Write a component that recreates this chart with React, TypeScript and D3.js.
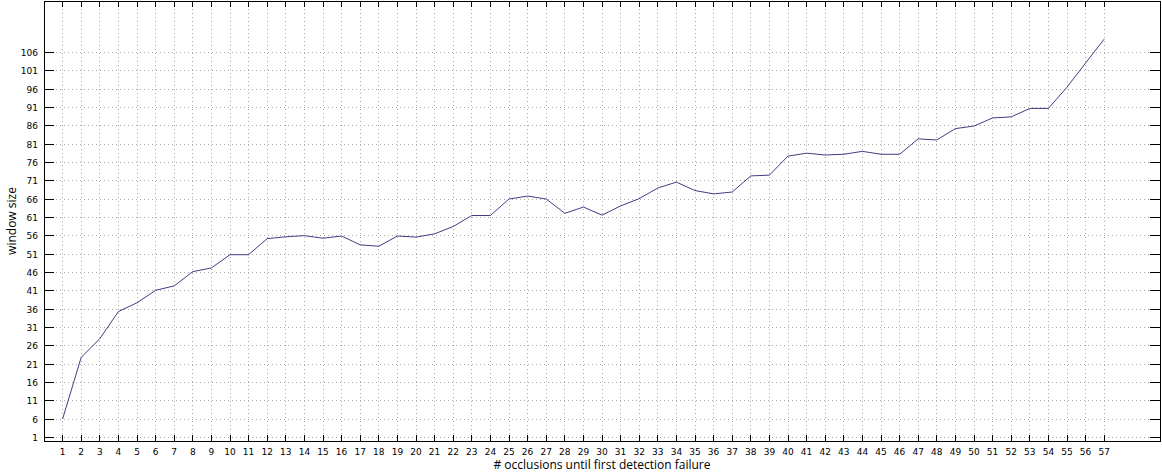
import React from 'react';
import * as d3 from 'd3';

// # occlusions until first detection failure (x = 1..57)
const occlusions: number[] = d3.range(1, 58);

const windowSize: number[] = [
  6, 22.8, 27.9, 35.3, 37.7, 41.1, 42.3, 46.2, 47.2, 50.8,
  50.8, 55.2, 55.7, 56.0, 55.3, 55.9, 53.5, 53.1, 55.9, 55.6,
  56.5, 58.5, 61.5, 61.5, 66.0, 66.8, 66.0, 62.1, 63.8, 61.6,
  64.1, 66.1, 69.0, 70.6, 68.3, 67.4, 67.9, 72.3, 72.5, 77.7,
  78.5, 78.0, 78.2, 79.0, 78.2, 78.2, 82.4, 82.1, 85.2, 85.9,
  88.1, 88.4, 90.7, 90.7, 96.5, 103.1, 109.6,
];

const xTicks: number[] = d3.range(1, 58);
const yTicks: number[] = d3.range(1, 107, 5);

const xLabel = '# occlusions until first detection failure';
const yLabel = 'window size';

const W = 1162;
const H = 474;
const margin = { top: 1, right: 2, bottom: 33, left: 44 };

const App: React.FC = () => {
  const x0 = margin.left;
  const x1 = W - margin.right;
  const y0 = margin.top;
  const y1 = H - margin.bottom;

  const xScale = d3.scaleLinear().domain([0, 60]).range([x0, x1]);
  const yScale = d3.scaleLinear().domain([0, 120]).range([y1, y0]);

  const line = d3
    .line<number>()
    .x((_, i) => xScale(occlusions[i]))
    .y(d => yScale(d));

  const gridColor = '#a8a8a8';
  const tickFont = '"DejaVu Sans", Verdana, sans-serif';
  const labelFont = '"Open Sans", "Noto Sans", sans-serif';

  return (
    <div style={{ position: 'fixed', left: 0, top: 0 }}>
      <svg width={W} height={H} style={{ display: 'block', background: '#fff' }}>
        {/* grid */}
        <g stroke={gridColor} strokeWidth={1} strokeDasharray="1,3" shapeRendering="crispEdges">
          {xTicks.map(t => (
            <line key={`gx${t}`} x1={xScale(t)} x2={xScale(t)} y1={y0} y2={y1} />
          ))}
          {yTicks.map(t => (
            <line key={`gy${t}`} x1={x0} x2={x1} y1={yScale(t)} y2={yScale(t)} />
          ))}
        </g>

        {/* ticks, mirrored on all sides */}
        <g stroke="#000" strokeWidth={1} shapeRendering="crispEdges">
          {xTicks.map(t => (
            <g key={`tx${t}`}>
              <line x1={xScale(t)} x2={xScale(t)} y1={y1} y2={y1 - 6} />
              <line x1={xScale(t)} x2={xScale(t)} y1={y0} y2={y0 + 6} />
            </g>
          ))}
          {yTicks.map(t => (
            <g key={`ty${t}`}>
              <line x1={x0} x2={x0 + 10} y1={yScale(t)} y2={yScale(t)} />
              <line x1={x1} x2={x1 - 10} y1={yScale(t)} y2={yScale(t)} />
            </g>
          ))}
        </g>

        {/* data */}
        <path d={line(windowSize) ?? ''} fill="none" stroke="#3f3f85" strokeWidth={1} />

        {/* box */}
        <rect
          x={x0}
          y={y0}
          width={x1 - x0}
          height={y1 - y0}
          fill="none"
          stroke="#000"
          strokeWidth={1}
          shapeRendering="crispEdges"
        />

        {/* tick labels */}
        <g fontFamily={tickFont} fontSize={9} fill="#000">
          {xTicks.map(t => (
            <text key={`lx${t}`} x={xScale(t)} y={y1 + 14} textAnchor="middle">
              {t}
            </text>
          ))}
          {yTicks.map(t => (
            <text key={`ly${t}`} x={x0 - 6} y={yScale(t) + 3.5} textAnchor="end">
              {t}
            </text>
          ))}
        </g>

        {/* axis labels */}
        <text
          x={(x0 + x1) / 2}
          y={H - 5}
          textAnchor="middle"
          fontFamily={labelFont}
          fontSize={12}
          fill="#000"
        >
          {xLabel}
        </text>
        <text
          transform={`translate(16,${(y0 + y1) / 2}) rotate(-90)`}
          textAnchor="middle"
          fontFamily={labelFont}
          fontSize={12}
          fill="#000"
        >
          {yLabel}
        </text>
      </svg>
    </div>
  );
};

export default App;
